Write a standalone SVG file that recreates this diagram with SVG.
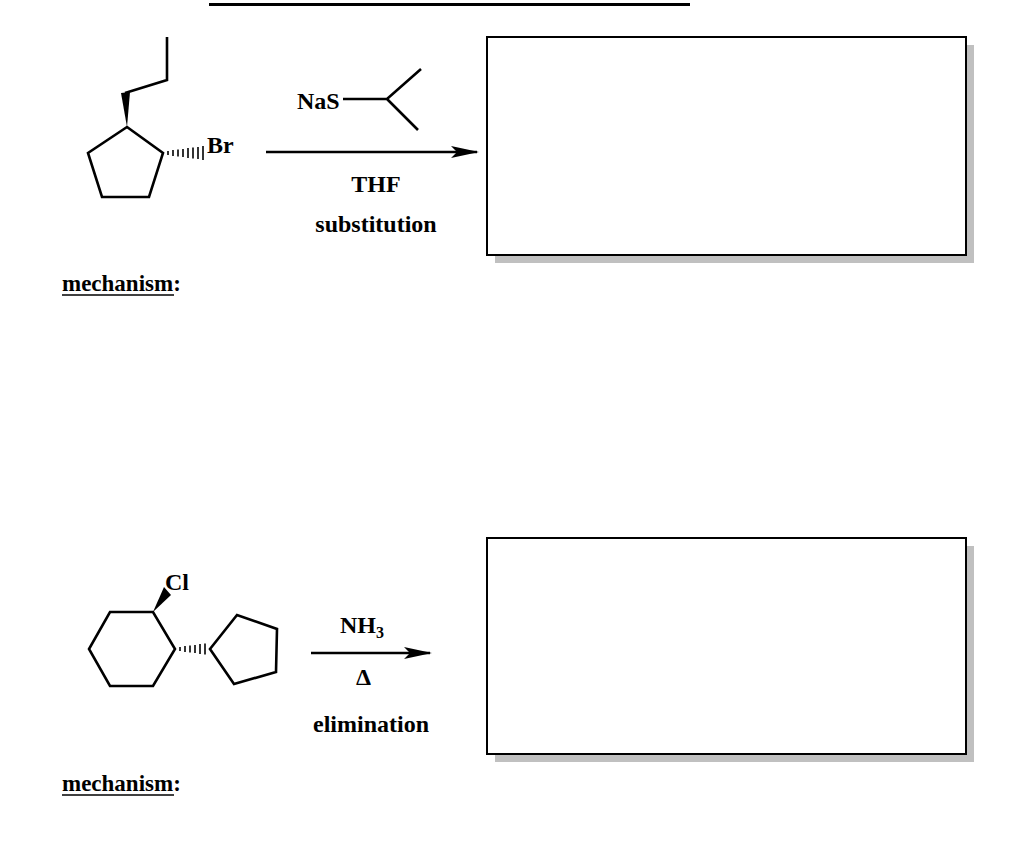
<svg xmlns="http://www.w3.org/2000/svg" width="1024" height="855" viewBox="0 0 1024 855">
<defs>
<style>
.b{stroke:#000;stroke-width:2.6;fill:none;stroke-linejoin:miter}
.t{font-family:"Liberation Serif",serif;font-weight:bold;font-size:24px;fill:#000}
.m{font-size:23px}
.box{fill:#fff;stroke:#000;stroke-width:2}
.sh{fill:#c0c0c0}
.h{stroke:#000;stroke-width:1.6}
</style>
<marker id="ah" markerWidth="28" markerHeight="12" refX="26" refY="6" orient="auto" markerUnits="userSpaceOnUse"><path d="M0,0 L28,6 L0,12 L6,6 Z" fill="#000"/></marker>
</defs>
<rect width="1024" height="855" fill="#fff"/>
<line x1="209" y1="4.5" x2="690" y2="4.5" stroke="#000" stroke-width="3"/>
<g id="reactant1">
<path class="b" d="M127,127 L163,153 L149,197 L102,197 L88,153 Z"/>
<path class="b" d="M125,93 L167,80 L167,37"/>
<polygon points="127,127 121,93 130,92" fill="#000"/>
<g class="h">
<line x1="168" y1="151" x2="168" y2="155"/><line x1="173" y1="150" x2="173" y2="156"/><line x1="178" y1="149.5" x2="178" y2="156.5"/><line x1="183" y1="149" x2="183" y2="157"/><line x1="188" y1="148" x2="188" y2="158"/><line x1="193" y1="147.5" x2="193" y2="158.5"/><line x1="198" y1="147" x2="198" y2="159"/><line x1="203" y1="146" x2="203" y2="160"/>
</g>
<text class="t" x="207" y="153">Br</text>
</g>
<g id="reagent1">
<text class="t" x="297" y="109">NaS</text>
<path class="b" d="M343,99 L387,99 L421,69 M387,99 L418,130"/>
<text class="t" x="376" y="192" text-anchor="middle">THF</text>
<text class="t" x="376" y="232" text-anchor="middle">substitution</text>
</g>
<g id="box1"><rect class="sh" x="495" y="45" width="479" height="218"/><rect class="box" x="487" y="37" width="479" height="218"/></g>
<g id="mech1"><text class="t m" x="62" y="291">mechanism:</text><line x1="62" y1="295" x2="174" y2="295" stroke="#000" stroke-width="1.5"/></g>
<g id="reactant2">
<path class="b" d="M110,612 L153,612 L175,649 L153,686 L110,686 L89,649 Z"/>
<path class="b" d="M210,649 L237,615 L277,629 L276,672 L234,684 Z"/>
<polygon points="153,612 164,587 171,595" fill="#000"/>
<g class="h">
<line x1="180" y1="647" x2="180" y2="651"/><line x1="185" y1="646" x2="185" y2="652"/><line x1="190" y1="645.5" x2="190" y2="652.5"/><line x1="195" y1="645" x2="195" y2="653"/><line x1="200" y1="644" x2="200" y2="654"/><line x1="205" y1="643.5" x2="205" y2="654.5"/>
</g>
<text class="t" x="165" y="590">Cl</text>
</g>
<g id="reagent2">
<text class="t" x="340" y="633">NH<tspan font-size="16" dy="5">3</tspan></text>
<text class="t" x="356" y="685" font-size="20">Δ</text>
<text class="t" x="371" y="732" text-anchor="middle">elimination</text>
</g>
<g id="box2"><rect class="sh" x="495" y="546" width="479" height="216"/><rect class="box" x="487" y="538" width="479" height="216"/></g>
<g id="mech2"><text class="t m" x="62" y="791">mechanism:</text><line x1="62" y1="795" x2="174" y2="795" stroke="#000" stroke-width="1.5"/></g>
<g id="connectors">
<line x1="266" y1="152" x2="477" y2="152" stroke="#000" stroke-width="2.4" marker-end="url(#ah)"/>
<line x1="311" y1="653" x2="430" y2="653" stroke="#000" stroke-width="2.4" marker-end="url(#ah)"/>
</g>
</svg>
